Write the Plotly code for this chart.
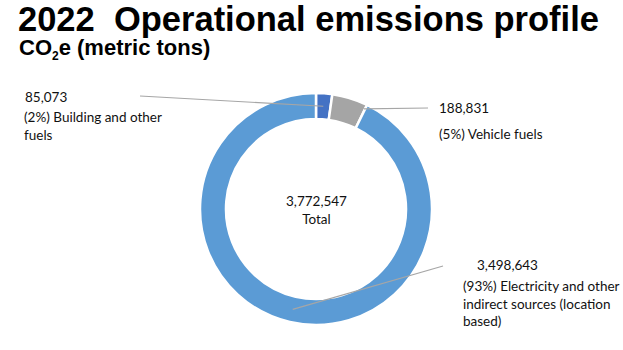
import math
import plotly.graph_objects as go

# Emissions by source (metric tons CO2e)
categories = ["Building and other fuels", "Vehicle fuels",
              "Electricity and other indirect sources (location based)"]
values = [85073, 188831, 3498643]
pct_labels = ["(2%) Building and other<br>fuels",
              "(5%) Vehicle fuels",
              "(93%) Electricity and other<br>indirect sources (location<br>based)"]
colors = ["#4472C4", "#A5A5A5", "#5B9BD5"]
total = sum(values)

W, H = 623, 350
def px(x): return x / W
def py(y): return 1 - y / H

# donut placement (pixels)
cx, cy, r_out = 316, 209, 116
hole = 0.776
label_font = dict(family="Lato, Calibri, sans-serif", size=13.5, color="#111111")

fig = go.Figure(go.Pie(
    labels=categories, values=values, sort=False, direction="clockwise",
    rotation=0, hole=hole, textinfo="none", hoverinfo="label+value+percent",
    marker=dict(colors=colors, line=dict(color="white", width=2.5)),
    domain=dict(x=[px(cx - r_out), px(cx + r_out)],
                y=[py(cy + r_out), py(cy - r_out)]),
    showlegend=False,
))

# angle (clockwise from 12 o'clock) at a fraction through each slice
def slice_point(i, frac, radius):
    start = sum(values[:i]) / total * 360
    span = values[i] / total * 360
    a = math.radians(start + frac * span)
    return cx + radius * math.sin(a), cy - radius * math.cos(a)

r_mid = (r_out + r_out * hole) / 2
leaders = [
    ((140, 96), slice_point(0, 0.5, r_mid)),
    ((428, 108), slice_point(1, 0.97, r_out - 5)),
    ((443, 266), slice_point(2, 0.5, r_mid)),
]
for (x0, y0), (x1, y1) in leaders:
    fig.add_shape(type="line", xref="paper", yref="paper",
                  x0=px(x0), y0=py(y0), x1=px(x1), y1=py(y1),
                  line=dict(color="#A6A6A6", width=1.2))

def note(x, y, text, anchor="left", yanchor="middle", font=label_font):
    fig.add_annotation(x=px(x), y=py(y), xref="paper", yref="paper", text=text,
                       showarrow=False, xanchor=anchor, yanchor=yanchor,
                       align="left", font=font)

# value and category labels
note(23, 97, f"{values[0]:,}")
note(22, 107, pct_labels[0], yanchor="top")
note(437, 108, f"{values[1]:,}")
note(437, 134, pct_labels[1])
note(475, 265, f"{values[2]:,}")
note(461, 276, pct_labels[2], yanchor="top")

# centre total
fig.add_annotation(x=px(cx), y=py(cy + 1), xref="paper", yref="paper",
                   text=f"{total:,}<br>Total", showarrow=False, align="center",
                   font=dict(family="Lato, Calibri, sans-serif", size=13.5, color="#111111"))

# headings
fig.add_annotation(x=px(16), y=py(19), xref="paper", yref="paper",
                   text="<b>2022  Operational emissions profile</b>", showarrow=False,
                   xanchor="left", yanchor="middle",
                   font=dict(family="Liberation Sans, Arial, sans-serif", size=34.5, color="#000000"))
fig.add_annotation(x=px(17), y=py(49), xref="paper", yref="paper",
                   text="<b>CO<sub><span style='font-size:12px'>2</span></sub>e (metric tons)</b>",
                   showarrow=False, xanchor="left", yanchor="middle",
                   font=dict(family="Liberation Sans, Arial, sans-serif", size=22, color="#000000"))

fig.update_layout(width=W, height=H, margin=dict(l=0, r=0, t=0, b=0),
                  paper_bgcolor="white", plot_bgcolor="white")
fig.write_html("out.html")
